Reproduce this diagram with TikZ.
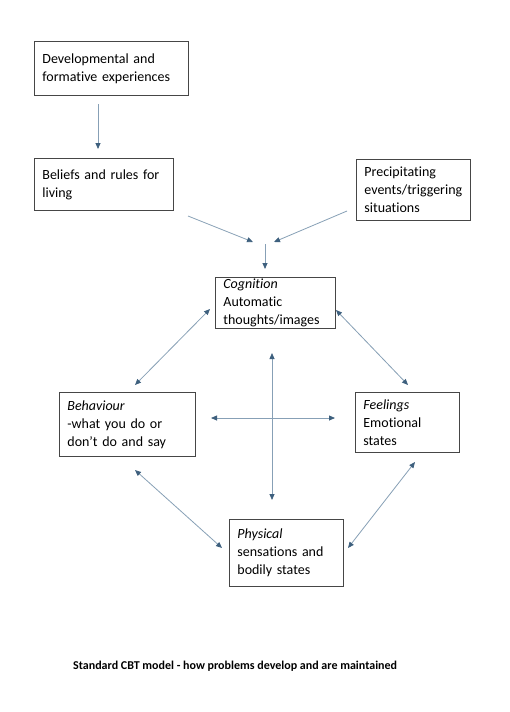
\documentclass[tikz,border=0pt]{standalone}
\usepackage{fontspec}
\setmainfont[Ligatures=NoCommon]{Carlito}
\usetikzlibrary{arrows.meta}
\definecolor{lnc}{RGB}{135,160,182}
\definecolor{hdc}{RGB}{62,96,126}
\definecolor{bxc}{RGB}{70,70,70}
\begin{document}
\begin{tikzpicture}[x=1pt,y=-1pt,
  box/.style={draw=bxc, line width=0.8pt, anchor=north west, inner xsep=8pt, inner ysep=0pt,
    align=left, font=\fontsize{14}{18}\selectfont},
  conn/.style={draw=lnc, line width=0.8pt, -{Triangle[length=6pt,width=5pt,color=hdc]}},
  conntwo/.style={draw=lnc, line width=0.8pt,
    {Triangle[length=6pt,width=5pt,color=hdc]}-{Triangle[length=6pt,width=5pt,color=hdc]}}]
\useasboundingbox[fill=white] (0,0) rectangle (510,712);

\node[box, text width=138pt, minimum height=54pt] (dev) at (34,41) {Developmental and\\formative experiences};
\node[box, text width=123pt, minimum height=52pt] (bel) at (34,158) {Beliefs and rules for\\living};
\node[box, text width=98pt, minimum height=61pt] (pre) at (356,159) {Precipitating\\events/triggering\\situations};
\node[box, text width=104pt, minimum height=51pt] (cog) at (215,277) {\textit{Cognition}\\Automatic\\thoughts/images};
\node[box, text width=120pt, minimum height=64pt] (beh) at (59,392) {\textit{Behaviour}\\-what you do or\\don’t do and say};
\node[box, text width=88pt, minimum height=60pt] (fee) at (355,392) {\textit{Feelings}\\Emotional\\states};
\node[box, text width=98pt, minimum height=67pt] (phy) at (229,519) {\textit{Physical}\\sensations and\\bodily states};

\node[anchor=west, inner sep=0pt, font=\fontsize{12}{14}\selectfont\bfseries] (cap) at (73,666)
  {Standard CBT model - how problems develop and are maintained};

\coordinate (a1s) at (98,104);  \coordinate (a1e) at (98,149);
\coordinate (a2s) at (188,216); \coordinate (a2e) at (253,242);
\coordinate (a3s) at (347,211); \coordinate (a3e) at (274,242);
\coordinate (a4s) at (265,244); \coordinate (a4e) at (265,269);
\coordinate (cb1) at (210,309); \coordinate (cb2) at (135,385);
\coordinate (cf1) at (336,310); \coordinate (cf2) at (408,385);
\coordinate (h1) at (211,418);  \coordinate (h2) at (335,418);
\coordinate (v1) at (272,353);  \coordinate (v2) at (272,500);
\coordinate (bp1) at (135,470); \coordinate (bp2) at (222,548);
\coordinate (fp1) at (415,462); \coordinate (fp2) at (348,548);

\draw[conn] (a1s) -- (a1e);
\draw[conn] (a2s) -- (a2e);
\draw[conn] (a3s) -- (a3e);
\draw[conn] (a4s) -- (a4e);
\draw[conntwo] (cb1) -- (cb2);
\draw[conntwo] (cf1) -- (cf2);
\draw[conntwo] (h1) -- (h2);
\draw[conntwo] (v1) -- (v2);
\draw[conntwo] (bp1) -- (bp2);
\draw[conntwo] (fp1) -- (fp2);
\end{tikzpicture}
\end{document}
